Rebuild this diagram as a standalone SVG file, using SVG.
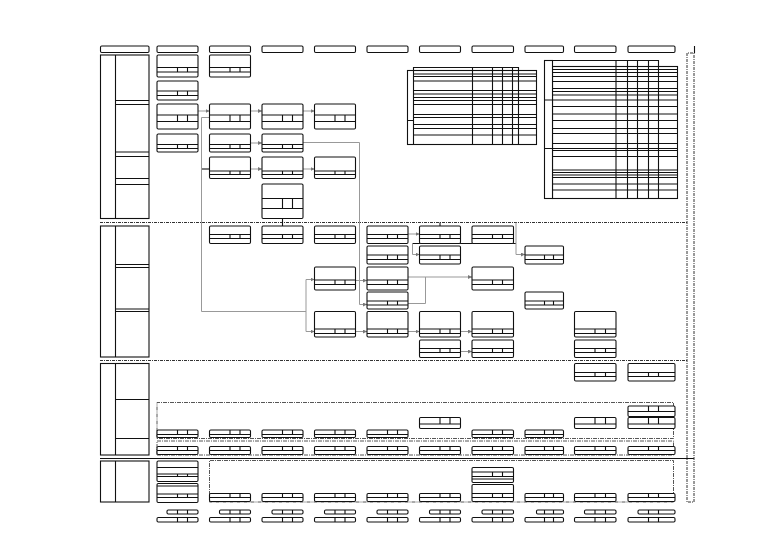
<svg xmlns="http://www.w3.org/2000/svg" width="768" height="543" viewBox="0 0 768 543">
<defs>
<style>
.n rect{fill:#fff;stroke:#111;stroke-width:1.1;rx:1.2px}
.n path,.t path{fill:none;stroke:#111;stroke-width:1.1}
.t rect{fill:#fff;stroke:#111;stroke-width:1.1}
.h rect{fill:#fff;stroke:#111;stroke-width:1.1;rx:1.2px}
.lane rect{fill:#fff;stroke:#111;stroke-width:1.1}
.lane path{fill:none;stroke:#111;stroke-width:1.1}
.dv{fill:none;stroke:#333;stroke-width:1;stroke-dasharray:3 1 1 1}
.dd{fill:none;stroke:#444;stroke-width:0.9;stroke-dasharray:4 1 1 1}
.c{fill:none;stroke:#999;stroke-width:1}
.ca{fill:none;stroke:#999;stroke-width:1;marker-end:url(#ar)}
.k{fill:none;stroke:#111;stroke-width:1.1}
</style>
<marker id="ar" viewBox="0 0 6 6" refX="6" refY="3" markerWidth="4" markerHeight="4" orient="auto" markerUnits="userSpaceOnUse"><path d="M0,0L6,3L0,6z" fill="#777"/></marker>
</defs>
<rect width="768" height="543" fill="#fff"/>

<!-- header bars -->
<g id="headers" class="h">
<rect x="100.5" y="46" width="48.5" height="6.5"/>
<rect x="157" y="46" width="41" height="6.5"/>
<rect x="209.5" y="46" width="41" height="6.5"/>
<rect x="262" y="46" width="41" height="6.5"/>
<rect x="314.5" y="46" width="41" height="6.5"/>
<rect x="367" y="46" width="41" height="6.5"/>
<rect x="419.5" y="46" width="41" height="6.5"/>
<rect x="472" y="46" width="41.5" height="6.5"/>
<rect x="525" y="46" width="38.5" height="6.5"/>
<rect x="574.5" y="46" width="41.5" height="6.5"/>
<rect x="628" y="46" width="47" height="6.5"/>
</g>

<!-- lane frames -->
<g id="lane1" class="lane"><rect x="100.5" y="55" width="48.5" height="163.5"/><path d="M115.5,55V218.5M115.5,100.5H149M115.5,104.5H149M115.5,152H149M115.5,156.5H149M115.5,178.5H149M115.5,184.5H149"/></g>
<g id="lane2" class="lane"><rect x="100.5" y="226" width="48.5" height="131"/><path d="M115.5,226V357M115.5,264.5H149M115.5,267.5H149M115.5,309H149M115.5,311.5H149"/></g>
<g id="lane3" class="lane"><rect x="100.5" y="363.5" width="48.5" height="91.5"/><path d="M115.5,363.5V455M115.5,399.5H149M115.5,438.5H149"/></g>
<g id="lane4" class="lane"><rect x="100.5" y="461" width="48.5" height="41"/><path d="M115.5,461V502"/></g>

<!-- dividers and frames -->
<g id="frames">
<path class="dv" d="M100,222.5H687"/>
<path class="dv" d="M100,360.5H687"/>
<path class="k" d="M100,458.5H694"/>
<path class="dv" d="M687,53V502H694V53H687"/>
<path class="k" d="M694.5,46V53"/>
<path class="dd" d="M157,438.5V402.5H673.5V438.5H157"/>
<path class="dd" d="M157,455V441H673.5V455H157"/>
<path class="dd" d="M209.5,502V460.5H673.5V502H209.5"/>
</g>

<!-- tables -->
<g id="tableA" class="t">
<rect x="407.5" y="70.5" width="129" height="74"/>
<path d="M413.5,70.5V67.5H518.5V70.5M413.5,67.5V144.5M472.5,67.5V144.5M492.5,67.5V144.5M502.5,67.5V144.5M512.5,67.5V144.5M518.5,67.5V144.5M413.5,74H536.5M413.5,76.5H536.5M413.5,81H536.5M413.5,90.5H536.5M413.5,94H536.5M413.5,97.5H536.5M413.5,100.5H536.5M413.5,104.5H536.5M413.5,114.5H536.5M413.5,117.5H536.5M413.5,124.5H536.5M413.5,128.5H536.5M413.5,135H536.5M407.5,120.5H413.5"/>
</g>
<g id="tableB" class="t">
<rect x="552.5" y="66.5" width="125" height="132"/>
<rect x="544.5" y="60.5" width="8" height="138"/>
<path d="M552.5,60.5H658.5V66.5M616,60.5V198.5M627.5,60.5V198.5M637.5,60.5V198.5M648.5,60.5V198.5M658.5,60.5V198.5M552.5,69.5H677.5M552.5,72.5H677.5M552.5,76.5H677.5M552.5,81.5H677.5M552.5,88.5H677.5M552.5,91.5H677.5M552.5,95H677.5M552.5,100H677.5M552.5,106.5H677.5M552.5,114H677.5M552.5,120.5H677.5M552.5,128.5H677.5M552.5,133.5H677.5M552.5,143.5H677.5M552.5,148.5H677.5M552.5,150.5H677.5M552.5,156.5H677.5M552.5,170H677.5M552.5,172.5H677.5M552.5,175H677.5M552.5,177.5H677.5M552.5,184H677.5M552.5,190H677.5M544.5,100H552.5M544.5,148.5H552.5"/>
</g>

<!-- connectors -->
<g id="connectors">
<path class="ca" d="M198,111H209.5"/>
<path class="ca" d="M250.5,111H262"/>
<path class="ca" d="M303,111H314.5"/>
<path class="ca" d="M250.5,143H262"/>
<path class="ca" d="M250.5,169H262"/>
<path class="ca" d="M303,169H314.5"/>
<path class="k" d="M201.5,169H209.5"/>
<path class="c" d="M209.5,117.5H201.5V311.5H306"/>
<path class="c" d="M306,279.5V331.5"/>
<path class="ca" d="M306,279.5H314.5"/>
<path class="ca" d="M306,331.5H314.5"/>
<path class="ca" d="M303,142.5H359.5V304.5H367"/>
<path class="k" d="M282.5,218.5V226"/>
<path class="k" d="M440,222.5V226"/>
<path class="ca" d="M408,234H419.5"/>
<path class="k" d="M412.5,243.5H516"/>
<path class="ca" d="M412.5,243.5V254.5H419.5"/>
<path class="ca" d="M516,222.5V254.5H525"/>
<path class="ca" d="M355.5,280.5H367"/>
<path class="ca" d="M408,277H472"/>
<path class="c" d="M408,303.5H425.5V277"/>
<path class="ca" d="M355.5,331.5H367"/>
<path class="ca" d="M408,331.5H419.5"/>
<path class="ca" d="M460.5,331.5H472"/>
<path class="ca" d="M460.5,351.5H472"/>
</g>

<!-- lane 1 nodes -->
<g id="n1" class="n"><rect x="157" y="55" width="41" height="22"/><path d="M157,67.5H198M157,72H198M177.5,67.5V72M187.5,67.5V72"/></g>
<g id="n2" class="n"><rect x="209.5" y="55" width="41" height="22"/><path d="M209.5,67.5H250.5M209.5,72H250.5M230,67.5V72M240,67.5V72"/></g>
<g id="n3" class="n"><rect x="157" y="81" width="41" height="19"/><path d="M157,91H198M157,95.5H198M177.5,91V95.5M187.5,91V95.5"/></g>
<g id="n4" class="n"><rect x="157" y="104" width="41" height="25"/><path d="M157,115H198M157,121.5H198M177.5,115V121.5M187.5,115V121.5"/></g>
<g id="n5" class="n"><rect x="209.5" y="104" width="41" height="25"/><path d="M209.5,115H250.5M209.5,121.5H250.5M230,115V121.5M240,115V121.5"/></g>
<g id="n6" class="n"><rect x="262" y="104" width="41" height="25"/><path d="M262,115H303M262,121.5H303M282.5,115V121.5M292.5,115V121.5"/></g>
<g id="n7" class="n"><rect x="314.5" y="104" width="41" height="25"/><path d="M314.5,115H355.5M314.5,121.5H355.5M335,115V121.5M345,115V121.5"/></g>
<g id="n8" class="n"><rect x="157" y="134" width="41" height="18"/><path d="M157,144.5H198M157,148.5H198M177.5,144.5V148.5M187.5,144.5V148.5"/></g>
<g id="n9" class="n"><rect x="209.5" y="134" width="41" height="18"/><path d="M209.5,144.5H250.5M209.5,148.5H250.5M230,144.5V148.5M240,144.5V148.5"/></g>
<g id="n10" class="n"><rect x="262" y="134" width="41" height="18"/><path d="M262,144.5H303M262,148.5H303M282.5,144.5V148.5M292.5,144.5V148.5"/></g>
<g id="n11" class="n"><rect x="209.5" y="157" width="41" height="21.5"/><path d="M209.5,171H250.5M209.5,174.5H250.5M230,171V174.5M240,171V174.5"/></g>
<g id="n12" class="n"><rect x="262" y="157" width="41" height="21.5"/><path d="M262,171H303M262,174.5H303M282.5,171V174.5M292.5,171V174.5"/></g>
<g id="n13" class="n"><rect x="314.5" y="157" width="41" height="21.5"/><path d="M314.5,171H355.5M314.5,174.5H355.5M335,171V174.5M345,171V174.5"/></g>
<g id="n14" class="n"><rect x="262" y="184" width="41" height="34.5"/><path d="M262,198.5H303M262,208.5H303M282.5,198.5V208.5M292.5,198.5V208.5"/></g>

<!-- lane 2 nodes -->
<g id="n15" class="n"><rect x="209.5" y="226" width="41" height="17.5"/><path d="M209.5,234.5H250.5M209.5,238.5H250.5M230,234.5V238.5M240,234.5V238.5"/></g>
<g id="n16" class="n"><rect x="262" y="226" width="41" height="17.5"/><path d="M262,234.5H303M262,238.5H303M282.5,234.5V238.5M292.5,234.5V238.5"/></g>
<g id="n17" class="n"><rect x="314.5" y="226" width="41" height="17.5"/><path d="M314.5,234.5H355.5M314.5,238.5H355.5M335,234.5V238.5M345,234.5V238.5"/></g>
<g id="n18" class="n"><rect x="367" y="226" width="41" height="17.5"/><path d="M367,234.5H408M367,238.5H408M387.5,234.5V238.5M397.5,234.5V238.5"/></g>
<g id="n19" class="n"><rect x="419.5" y="226" width="41" height="17.5"/><path d="M419.5,234.5H460.5M419.5,238.5H460.5M440,234.5V238.5M450,234.5V238.5"/></g>
<g id="n20" class="n"><rect x="472" y="226" width="41.5" height="17.5"/><path d="M472,234.5H513.5M472,238.5H513.5M492.5,234.5V238.5M502.5,234.5V238.5"/></g>
<g id="n21" class="n"><rect x="367" y="246" width="41" height="18"/><path d="M367,255H408M367,259.5H408M387.5,255V259.5M397.5,255V259.5"/></g>
<g id="n22" class="n"><rect x="419.5" y="246" width="41" height="18"/><path d="M419.5,255H460.5M419.5,259.5H460.5M440,255V259.5M450,255V259.5"/></g>
<g id="n23" class="n"><rect x="525" y="246" width="38.5" height="18"/><path d="M525,255H563.5M525,259.5H563.5M544.5,255V259.5M553.5,255V259.5"/></g>
<g id="n24" class="n"><rect x="314.5" y="267" width="41" height="23"/><path d="M314.5,280H355.5M314.5,284.5H355.5M335,280V284.5M345,280V284.5"/></g>
<g id="n25" class="n"><rect x="367" y="267" width="41" height="23"/><path d="M367,280H408M367,284.5H408M387.5,280V284.5M397.5,280V284.5"/></g>
<g id="n26" class="n"><rect x="472" y="267" width="41.5" height="23"/><path d="M472,280H513.5M472,284.5H513.5M492.5,280V284.5M502.5,280V284.5"/></g>
<g id="n27" class="n"><rect x="367" y="292" width="41" height="17"/><path d="M367,301H408M367,305H408M387.5,301V305M397.5,301V305"/></g>
<g id="n28" class="n"><rect x="525" y="292" width="38.5" height="17"/><path d="M525,301H563.5M525,305H563.5M544.5,301V305M553.5,301V305"/></g>
<g id="n29" class="n"><rect x="314.5" y="311.5" width="41" height="25.5"/><path d="M314.5,329H355.5M314.5,333.5H355.5M335,329V333.5M345,329V333.5"/></g>
<g id="n30" class="n"><rect x="367" y="311.5" width="41" height="25.5"/><path d="M367,329H408M367,333.5H408M387.5,329V333.5M397.5,329V333.5"/></g>
<g id="n31" class="n"><rect x="419.5" y="311.5" width="41" height="25.5"/><path d="M419.5,329H460.5M419.5,333.5H460.5M440,329V333.5M450,329V333.5"/></g>
<g id="n32" class="n"><rect x="472" y="311.5" width="41.5" height="25.5"/><path d="M472,329H513.5M472,333.5H513.5M492.5,329V333.5M502.5,329V333.5"/></g>
<g id="n33" class="n"><rect x="574.5" y="311.5" width="41.5" height="25.5"/><path d="M574.5,329H616M574.5,333.5H616M595,329V333.5M605.5,329V333.5"/></g>
<g id="n34" class="n"><rect x="419.5" y="340" width="41" height="17.5"/><path d="M419.5,348.5H460.5M419.5,352.5H460.5M440,348.5V352.5M450,348.5V352.5"/></g>
<g id="n35" class="n"><rect x="472" y="340" width="41.5" height="17.5"/><path d="M472,348.5H513.5M472,352.5H513.5M492.5,348.5V352.5M502.5,348.5V352.5"/></g>
<g id="n36" class="n"><rect x="574.5" y="340" width="41.5" height="17.5"/><path d="M574.5,348.5H616M574.5,352.5H616M595,348.5V352.5M605.5,348.5V352.5"/></g>

<!-- lane 3 nodes -->
<g id="n37" class="n"><rect x="574.5" y="363.5" width="41.5" height="17.5"/><path d="M574.5,372.5H616M574.5,376.5H616M595,372.5V376.5M605.5,372.5V376.5"/></g>
<g id="n38" class="n"><rect x="628" y="363.5" width="47" height="17.5"/><path d="M628,372.5H675M628,376.5H675M648.5,372.5V376.5M658.5,372.5V376.5"/></g>
<g id="n39" class="n"><rect x="157" y="430" width="41" height="7.5"/><path d="M157,434.5H198M177.5,430V434.5M187.5,430V434.5"/></g>
<g id="n40" class="n"><rect x="209.5" y="430" width="41" height="7.5"/><path d="M209.5,434.5H250.5M230,430V434.5M240,430V434.5"/></g>
<g id="n41" class="n"><rect x="262" y="430" width="41" height="7.5"/><path d="M262,434.5H303M282.5,430V434.5M292.5,430V434.5"/></g>
<g id="n42" class="n"><rect x="314.5" y="430" width="41" height="7.5"/><path d="M314.5,434.5H355.5M335,430V434.5M345,430V434.5"/></g>
<g id="n43" class="n"><rect x="367" y="430" width="41" height="7.5"/><path d="M367,434.5H408M387.5,430V434.5M397.5,430V434.5"/></g>
<g id="n44" class="n"><rect x="419.5" y="417.5" width="41" height="11"/><path d="M419.5,424H460.5M440,417.5V424M450,417.5V424"/></g>
<g id="n45" class="n"><rect x="472" y="430" width="41.5" height="7.5"/><path d="M472,434.5H513.5M492.5,430V434.5M502.5,430V434.5"/></g>
<g id="n46" class="n"><rect x="525" y="430" width="38.5" height="7.5"/><path d="M525,434.5H563.5M544.5,430V434.5M553.5,430V434.5"/></g>
<g id="n47" class="n"><rect x="574.5" y="417.5" width="41.5" height="11"/><path d="M574.5,424H616M595,417.5V424M605.5,417.5V424"/></g>
<g id="n48" class="n"><rect x="628" y="406" width="47" height="10.5"/><path d="M628,411.5H675M648.5,406V411.5M658.5,406V411.5"/></g>
<g id="n49" class="n"><rect x="628" y="417.5" width="47" height="11"/><path d="M628,424H675M648.5,417.5V424M658.5,417.5V424"/></g>
<g id="n50" class="n"><rect x="157" y="446.5" width="41" height="8"/><path d="M157,450.5H198M177.5,446.5V450.5M187.5,446.5V450.5"/></g>
<g id="n51" class="n"><rect x="209.5" y="446.5" width="41" height="8"/><path d="M209.5,450.5H250.5M230,446.5V450.5M240,446.5V450.5"/></g>
<g id="n52" class="n"><rect x="262" y="446.5" width="41" height="8"/><path d="M262,450.5H303M282.5,446.5V450.5M292.5,446.5V450.5"/></g>
<g id="n53" class="n"><rect x="314.5" y="446.5" width="41" height="8"/><path d="M314.5,450.5H355.5M335,446.5V450.5M345,446.5V450.5"/></g>
<g id="n54" class="n"><rect x="367" y="446.5" width="41" height="8"/><path d="M367,450.5H408M387.5,446.5V450.5M397.5,446.5V450.5"/></g>
<g id="n55" class="n"><rect x="419.5" y="446.5" width="41" height="8"/><path d="M419.5,450.5H460.5M440,446.5V450.5M450,446.5V450.5"/></g>
<g id="n56" class="n"><rect x="472" y="446.5" width="41.5" height="8"/><path d="M472,450.5H513.5M492.5,446.5V450.5M502.5,446.5V450.5"/></g>
<g id="n57" class="n"><rect x="525" y="446.5" width="38.5" height="8"/><path d="M525,450.5H563.5M544.5,446.5V450.5M553.5,446.5V450.5"/></g>
<g id="n58" class="n"><rect x="574.5" y="446.5" width="41.5" height="8"/><path d="M574.5,450.5H616M595,446.5V450.5M605.5,446.5V450.5"/></g>
<g id="n59" class="n"><rect x="628" y="446.5" width="47" height="8"/><path d="M628,450.5H675M648.5,446.5V450.5M658.5,446.5V450.5"/></g>

<!-- lane 4 nodes -->
<g id="n60" class="n"><rect x="157" y="461" width="41" height="20.5"/><path d="M157,467.5H198M157,474H198M157,476.5H198M177.5,474V476.5M187.5,474V476.5"/></g>
<g id="n61" class="n"><rect x="157" y="483.5" width="41" height="19"/><path d="M157,486H198M157,494H198M157,497.5H198M177.5,494V497.5M187.5,494V497.5"/></g>
<g id="n62" class="n"><rect x="472" y="467.5" width="41.5" height="15"/><path d="M472,472H513.5M472,476.5H513.5M472,479H513.5M492.5,472V476.5M502.5,472V476.5"/></g>
<g id="n63" class="n"><rect x="472" y="484.5" width="41.5" height="17"/><path d="M472,493.5H513.5M472,497.5H513.5M492.5,493.5V497.5M502.5,493.5V497.5"/></g>
<g id="n64" class="n"><rect x="209.5" y="493.5" width="41" height="8"/><path d="M209.5,497.5H250.5M230,493.5V497.5M240,493.5V497.5"/></g>
<g id="n65" class="n"><rect x="262" y="493.5" width="41" height="8"/><path d="M262,497.5H303M282.5,493.5V497.5M292.5,493.5V497.5"/></g>
<g id="n66" class="n"><rect x="314.5" y="493.5" width="41" height="8"/><path d="M314.5,497.5H355.5M335,493.5V497.5M345,493.5V497.5"/></g>
<g id="n67" class="n"><rect x="367" y="493.5" width="41" height="8"/><path d="M367,497.5H408M387.5,493.5V497.5M397.5,493.5V497.5"/></g>
<g id="n68" class="n"><rect x="419.5" y="493.5" width="41" height="8"/><path d="M419.5,497.5H460.5M440,493.5V497.5M450,493.5V497.5"/></g>
<g id="n69" class="n"><rect x="525" y="493.5" width="38.5" height="8"/><path d="M525,497.5H563.5M544.5,493.5V497.5M553.5,493.5V497.5"/></g>
<g id="n70" class="n"><rect x="574.5" y="493.5" width="41.5" height="8"/><path d="M574.5,497.5H616M595,493.5V497.5M605.5,493.5V497.5"/></g>
<g id="n71" class="n"><rect x="628" y="493.5" width="47" height="8"/><path d="M628,497.5H675M648.5,493.5V497.5M658.5,493.5V497.5"/></g>

<!-- bars below -->
<g id="b1" class="n"><rect x="167" y="510" width="31" height="4"/><rect x="157" y="517.5" width="41" height="4.5"/><path d="M177.5,510V514M187.5,510V514M177.5,517.5V522M187.5,517.5V522"/></g>
<g id="b2" class="n"><rect x="219.5" y="510" width="31" height="4"/><rect x="209.5" y="517.5" width="41" height="4.5"/><path d="M230,510V514M240,510V514M230,517.5V522M240,517.5V522"/></g>
<g id="b3" class="n"><rect x="272" y="510" width="31" height="4"/><rect x="262" y="517.5" width="41" height="4.5"/><path d="M282.5,510V514M292.5,510V514M282.5,517.5V522M292.5,517.5V522"/></g>
<g id="b4" class="n"><rect x="324.5" y="510" width="31" height="4"/><rect x="314.5" y="517.5" width="41" height="4.5"/><path d="M335,510V514M345,510V514M335,517.5V522M345,517.5V522"/></g>
<g id="b5" class="n"><rect x="377" y="510" width="31" height="4"/><rect x="367" y="517.5" width="41" height="4.5"/><path d="M387.5,510V514M397.5,510V514M387.5,517.5V522M397.5,517.5V522"/></g>
<g id="b6" class="n"><rect x="429.5" y="510" width="31" height="4"/><rect x="419.5" y="517.5" width="41" height="4.5"/><path d="M440,510V514M450,510V514M440,517.5V522M450,517.5V522"/></g>
<g id="b7" class="n"><rect x="482" y="510" width="31.5" height="4"/><rect x="472" y="517.5" width="41.5" height="4.5"/><path d="M492.5,510V514M502.5,510V514M492.5,517.5V522M502.5,517.5V522"/></g>
<g id="b8" class="n"><rect x="536.5" y="510" width="27" height="4"/><rect x="525" y="517.5" width="38.5" height="4.5"/><path d="M544.5,510V514M553.5,510V514M544.5,517.5V522M553.5,517.5V522"/></g>
<g id="b9" class="n"><rect x="584.5" y="510" width="31.5" height="4"/><rect x="574.5" y="517.5" width="41.5" height="4.5"/><path d="M595,510V514M605.5,510V514M595,517.5V522M605.5,517.5V522"/></g>
<g id="b10" class="n"><rect x="638" y="510" width="37" height="4"/><rect x="628" y="517.5" width="47" height="4.5"/><path d="M648.5,510V514M658.5,510V514M648.5,517.5V522M658.5,517.5V522"/></g>
</svg>
